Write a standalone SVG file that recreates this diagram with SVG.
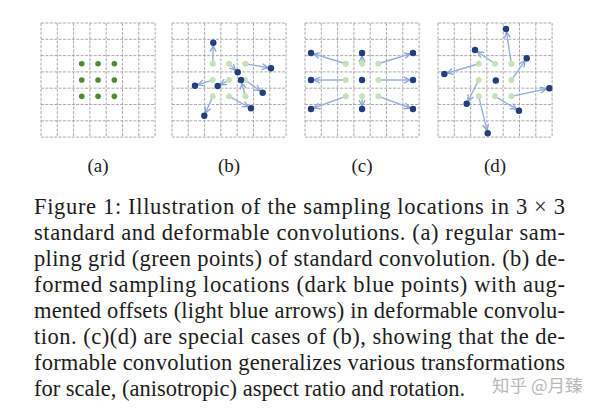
<svg xmlns="http://www.w3.org/2000/svg" xmlns:xlink="http://www.w3.org/1999/xlink" width="600" height="412" viewBox="0 0 600 412">
<style>
.grid{fill:none;stroke:#a3a3a3;stroke-width:0.9;stroke-dasharray:3 1.4}
.g{fill:#4f8a33}
.lg{fill:#c9e3b9}
.db{fill:#213f7e}
.arr{stroke:#98b0dc;stroke-width:1.4;fill:none;marker-end:url(#ah)}
.lab{font-size:19px;fill:#222;text-anchor:middle}
.cap{font-size:22.5px;fill:#1c1c1c}
.wm{font-family:'Noto Sans CJK SC','Noto Sans',sans-serif;font-size:17.5px;fill:#b8b8b8}
</style>
<defs>
<marker id="ah" markerUnits="userSpaceOnUse" markerWidth="12" markerHeight="8" refX="9" refY="3" orient="auto" viewBox="0 0 12 6" overflow="visible">
<path d="M0,0 L6,3 L0,6" fill="none" stroke="#8aa4d6" stroke-width="1.3"/>
</marker>
<path id="gridp" class="grid" d="M0,0V114.1M16.3,0V114.1M32.6,0V114.1M48.9,0V114.1M65.2,0V114.1M81.5,0V114.1M97.8,0V114.1M114.1,0V114.1M0,0H114.1M0,16.3H114.1M0,32.6H114.1M0,48.9H114.1M0,65.2H114.1M0,81.5H114.1M0,97.8H114.1M0,114.1H114.1"/>
</defs>
<rect width="600" height="412" fill="#fff"/>
<g id="grids">
<use xlink:href="#gridp" transform="translate(41,23)"/>
<use xlink:href="#gridp" transform="translate(172,23)"/>
<use xlink:href="#gridp" transform="translate(305,23)"/>
<use xlink:href="#gridp" transform="translate(438,23)"/>
</g>
<g id="panel-a">
<circle class="g" cx="81.75" cy="63.75" r="2.8"/><circle class="g" cx="98.05" cy="63.75" r="2.8"/><circle class="g" cx="114.35" cy="63.75" r="2.8"/>
<circle class="g" cx="81.75" cy="80.05" r="2.8"/><circle class="g" cx="98.05" cy="80.05" r="2.8"/><circle class="g" cx="114.35" cy="80.05" r="2.8"/>
<circle class="g" cx="81.75" cy="96.35" r="2.8"/><circle class="g" cx="98.05" cy="96.35" r="2.8"/><circle class="g" cx="114.35" cy="96.35" r="2.8"/>
</g>
<g id="connectors">
<line class="arr" x1="212.75" y1="63.75" x2="213.3" y2="42.7"/>
<line class="arr" x1="229.05" y1="63.75" x2="237.7" y2="72.3"/>
<line class="arr" x1="245.35" y1="63.75" x2="271" y2="68.3"/>
<line class="arr" x1="212.75" y1="80.05" x2="195" y2="85.7"/>
<line class="arr" x1="229.05" y1="80.05" x2="217.7" y2="86"/>
<line class="arr" x1="245.35" y1="80.05" x2="262.7" y2="92.7"/>
<line class="arr" x1="212.75" y1="96.35" x2="204.3" y2="115.7"/>
<line class="arr" x1="229.05" y1="96.35" x2="251" y2="108.3"/>
<line class="arr" x1="245.35" y1="96.35" x2="241" y2="80"/>

<line class="arr" x1="345.75" y1="63.75" x2="311" y2="53"/>
<line class="arr" x1="362.05" y1="63.75" x2="362.05" y2="53"/>
<line class="arr" x1="378.35" y1="63.75" x2="413" y2="53"/>
<line class="arr" x1="345.75" y1="80.05" x2="311" y2="80.05"/>
<line class="arr" x1="378.35" y1="80.05" x2="413" y2="80.05"/>
<line class="arr" x1="345.75" y1="96.35" x2="311" y2="109"/>
<line class="arr" x1="362.05" y1="96.35" x2="362.05" y2="109"/>
<line class="arr" x1="378.35" y1="96.35" x2="413" y2="109"/>

<line class="arr" x1="478.75" y1="63.75" x2="444.3" y2="74"/>
<line class="arr" x1="495.05" y1="63.75" x2="475" y2="50"/>
<line class="arr" x1="511.35" y1="63.75" x2="506" y2="29"/>
<line class="arr" x1="478.75" y1="80.05" x2="466.7" y2="103.7"/>
<line class="arr" x1="511.35" y1="80.05" x2="526.7" y2="58.3"/>
<line class="arr" x1="478.75" y1="96.35" x2="487.7" y2="133.3"/>
<line class="arr" x1="495.05" y1="96.35" x2="519" y2="110.7"/>
<line class="arr" x1="511.35" y1="96.35" x2="549.3" y2="88.3"/>
</g>
<g id="panel-b">
<circle class="lg" cx="212.75" cy="63.75" r="3"/><circle class="lg" cx="229.05" cy="63.75" r="3"/><circle class="lg" cx="245.35" cy="63.75" r="3"/>
<circle class="lg" cx="212.75" cy="80.05" r="3"/><circle class="lg" cx="229.05" cy="80.05" r="3"/><circle class="lg" cx="245.35" cy="80.05" r="3"/>
<circle class="lg" cx="212.75" cy="96.35" r="3"/><circle class="lg" cx="229.05" cy="96.35" r="3"/><circle class="lg" cx="245.35" cy="96.35" r="3"/>
<circle class="db" cx="213.3" cy="42.7" r="3.2"/><circle class="db" cx="237.7" cy="72.3" r="3.2"/><circle class="db" cx="271" cy="68.3" r="3.2"/>
<circle class="db" cx="195" cy="85.7" r="3.2"/><circle class="db" cx="217.7" cy="86" r="3.2"/><circle class="db" cx="262.7" cy="92.7" r="3.2"/>
<circle class="db" cx="204.3" cy="115.7" r="3.2"/><circle class="db" cx="251" cy="108.3" r="3.2"/><circle class="db" cx="241" cy="80" r="3.2"/>
</g>
<g id="panel-c">
<circle class="lg" cx="345.75" cy="63.75" r="3"/><circle class="lg" cx="362.05" cy="63.75" r="3"/><circle class="lg" cx="378.35" cy="63.75" r="3"/>
<circle class="lg" cx="345.75" cy="80.05" r="3"/><circle class="lg" cx="378.35" cy="80.05" r="3"/>
<circle class="lg" cx="345.75" cy="96.35" r="3"/><circle class="lg" cx="362.05" cy="96.35" r="3"/><circle class="lg" cx="378.35" cy="96.35" r="3"/>
<circle class="db" cx="311" cy="53" r="3.2"/><circle class="db" cx="362.05" cy="53" r="3.2"/><circle class="db" cx="413" cy="53" r="3.2"/>
<circle class="db" cx="311" cy="80.05" r="3.2"/><circle class="db" cx="362.05" cy="80.05" r="3.2"/><circle class="db" cx="413" cy="80.05" r="3.2"/>
<circle class="db" cx="311" cy="109" r="3.2"/><circle class="db" cx="362.05" cy="109" r="3.2"/><circle class="db" cx="413" cy="109" r="3.2"/>
</g>
<g id="panel-d">
<circle class="lg" cx="478.75" cy="63.75" r="3"/><circle class="lg" cx="495.05" cy="63.75" r="3"/><circle class="lg" cx="511.35" cy="63.75" r="3"/>
<circle class="lg" cx="478.75" cy="80.05" r="3"/><circle class="lg" cx="511.35" cy="80.05" r="3"/>
<circle class="lg" cx="478.75" cy="96.35" r="3"/><circle class="lg" cx="495.05" cy="96.35" r="3"/><circle class="lg" cx="511.35" cy="96.35" r="3"/>
<circle class="db" cx="444.3" cy="74" r="3.2"/><circle class="db" cx="475" cy="50" r="3.2"/><circle class="db" cx="506" cy="29" r="3.2"/>
<circle class="db" cx="466.7" cy="103.7" r="3.2"/><circle class="db" cx="495.8" cy="80.5" r="3.2"/><circle class="db" cx="526.7" cy="58.3" r="3.2"/>
<circle class="db" cx="487.7" cy="133.3" r="3.2"/><circle class="db" cx="519" cy="110.7" r="3.2"/><circle class="db" cx="549.3" cy="88.3" r="3.2"/>
</g>
<g id="labels" font-family="Liberation Serif, Times New Roman, Tinos, Times, serif">
<text class="lab" x="98" y="172">(a)</text>
<text class="lab" x="229" y="172">(b)</text>
<text class="lab" x="362" y="172">(c)</text>
<text class="lab" x="495" y="172">(d)</text>
</g>
<g id="caption" font-family="Liberation Serif, Times New Roman, Tinos, Times, serif">
<text class="cap" x="34" y="213.5" textLength="531" lengthAdjust="spacing">Figure 1:  Illustration of the sampling locations in 3 × 3</text>
<text class="cap" x="34" y="239.5" textLength="531" lengthAdjust="spacing">standard and deformable convolutions.  (a) regular sam-</text>
<text class="cap" x="34" y="265.5" textLength="531" lengthAdjust="spacing">pling grid (green points) of standard convolution.  (b) de-</text>
<text class="cap" x="34" y="291.5" textLength="531" lengthAdjust="spacing">formed sampling locations (dark blue points) with aug-</text>
<text class="cap" x="34" y="317.5" textLength="531" lengthAdjust="spacing">mented offsets (light blue arrows) in deformable convolu-</text>
<text class="cap" x="34" y="343.5" textLength="531" lengthAdjust="spacing">tion.  (c)(d) are special cases of (b), showing that the de-</text>
<text class="cap" x="34" y="369.5" textLength="531" lengthAdjust="spacing">formable convolution generalizes various transformations</text>
<text class="cap" x="34" y="395.5">for scale, (anisotropic) aspect ratio and rotation.</text>
</g>
<text class="wm" x="492" y="392">知乎 @月臻</text>
</svg>
